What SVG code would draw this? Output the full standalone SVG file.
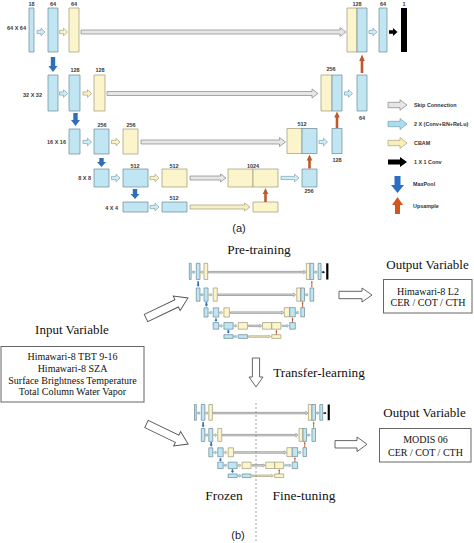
<svg xmlns="http://www.w3.org/2000/svg" xmlns:xlink="http://www.w3.org/1999/xlink" width="474" height="543" viewBox="0 0 474 543">
<style>
.cy{fill:#bfe6f2;stroke:#6d8790;stroke-width:0.7;vector-effect:non-scaling-stroke}
.ye{fill:#fcf5cb;stroke:#9b9878;stroke-width:0.7;vector-effect:non-scaling-stroke}
.sk{fill:#e6e6e6;stroke:#858585;stroke-width:0.7;vector-effect:non-scaling-stroke}
.sy{fill:#f8f0c0;stroke:#a29c78;stroke-width:0.7;vector-effect:non-scaling-stroke}
.cv{fill:#cdeef6;stroke:#7aa3ad;stroke-width:0.7;vector-effect:non-scaling-stroke}
.cb{fill:#fbf3c6;stroke:#a9a27a;stroke-width:0.7;vector-effect:non-scaling-stroke}
.mp{fill:#2f6fba}
.up{fill:#bd5a2c}
.bk{fill:#000}
.lbl{font-family:"Liberation Sans",Arial,sans-serif;font-size:5.5px;font-weight:bold;fill:#3a3a3a;text-anchor:middle}
.rl{font-family:"Liberation Sans",Arial,sans-serif;font-size:5.5px;font-weight:bold;fill:#3a3a3a;text-anchor:end}
.leg{font-family:"Liberation Sans",Arial,sans-serif;font-size:5.4px;font-weight:bold;fill:#333}
.ser{font-family:"Liberation Serif","Times New Roman",serif;fill:#111;text-anchor:middle}
.cap{font-family:"Liberation Sans",Arial,sans-serif;font-size:11px;fill:#222;text-anchor:middle}
.ho{fill:#fff;stroke:#555;stroke-width:0.9}
.bx{fill:#fff;stroke:#666;stroke-width:1}
</style>

<!-- (a) U-Net -->
<g id="unet-a">
  <g id="unet-a-nodes">
    <g id="r1">
      <rect class="cy" x="29" y="8" width="5" height="44"/>
      <rect class="cy" x="48" y="8" width="10" height="44"/>
      <rect class="ye" x="69" y="8" width="10" height="44"/>
      <rect class="ye" x="347" y="8" width="10" height="44"/>
      <rect class="cy" x="357" y="8" width="10" height="44"/>
      <rect class="cy" x="379" y="8" width="8" height="44"/>
      <rect class="bk" x="401" y="8" width="6" height="44"/>
    </g>
    <g id="r2">
      <rect class="cy" x="48" y="75" width="10" height="36"/>
      <rect class="cy" x="69" y="75" width="11" height="36"/>
      <rect class="ye" x="94" y="75" width="11" height="36"/>
      <rect class="ye" x="321" y="75" width="11" height="36"/>
      <rect class="cy" x="332" y="75" width="10" height="36"/>
      <rect class="cy" x="357" y="75" width="10" height="36"/>
    </g>
    <g id="r3">
      <rect class="cy" x="69" y="129" width="11" height="25"/>
      <rect class="cy" x="94" y="129" width="15" height="25"/>
      <rect class="ye" x="123" y="129" width="15" height="25"/>
      <rect class="ye" x="287" y="128.5" width="15" height="25"/>
      <rect class="cy" x="302" y="128.5" width="15" height="25"/>
      <rect class="cy" x="332" y="128.5" width="10" height="25"/>
    </g>
    <g id="r4">
      <rect class="cy" x="94" y="169" width="15" height="18"/>
      <rect class="cy" x="123" y="169" width="25" height="18"/>
      <rect class="ye" x="162" y="169" width="25" height="18"/>
      <rect class="ye" x="228" y="169" width="25" height="18"/>
      <rect class="ye" x="253" y="169" width="25" height="18"/>
      <rect class="cy" x="302" y="169" width="15" height="18"/>
    </g>
    <g id="r5">
      <rect class="cy" x="123" y="202" width="25" height="10"/>
      <rect class="cy" x="162" y="202" width="25" height="10"/>
      <rect class="ye" x="253" y="202" width="25" height="10"/>
    </g>
  </g>
  <g id="unet-a-connectors">
    <path class="cv" d="M37,30.4 H41 V28.2 L45,32 L41,35.8 V33.6 H37 Z"/>
    <path class="cb" d="M59.5,30.4 H63.5 V28.2 L67.5,32 L63.5,35.8 V33.6 H59.5 Z"/>
    <path class="sk" d="M81,30 H340 V27.5 L346,32 L340,36.5 V34 H81 Z"/>
    <path class="cv" d="M369,30.4 H373 V28.2 L377,32 L373,35.8 V33.6 H369 Z"/>
    <path class="bk" d="M389,30.2 H393 V28 L397.5,32 L393,36 V33.8 H389 Z"/>
    <path class="cv" d="M59.5,91.9 H63.5 V89.7 L67.5,93.5 L63.5,97.3 V95.1 H59.5 Z"/>
    <path class="cb" d="M83,91.9 H87.5 V89.7 L91.5,93.5 L87.5,97.3 V95.1 H83 Z"/>
    <path class="sk" d="M107,91.5 H312 V89 L318,93.5 L312,98 V95.5 H107 Z"/>
    <path class="cv" d="M344.5,91.9 H348.5 V89.7 L352.5,93.5 L348.5,97.3 V95.1 H344.5 Z"/>
    <path class="cv" d="M83,140.4 H87.5 V138.2 L91.5,142 L87.5,145.8 V143.6 H83 Z"/>
    <path class="cb" d="M111.5,140.4 H116 V138.2 L120,142 L116,145.8 V143.6 H111.5 Z"/>
    <path class="sk" d="M141,140 H279.5 V137.5 L285.5,142 L279.5,146.5 V144 H141 Z"/>
    <path class="cv" d="M319,140.4 H323.5 V138.2 L327.5,142 L323.5,145.8 V143.6 H319 Z"/>
    <path class="cv" d="M111.5,176.4 H116 V174.2 L120,178 L116,181.8 V179.6 H111.5 Z"/>
    <path class="cb" d="M150,176.4 H155 V174.2 L159,178 L155,181.8 V179.6 H150 Z"/>
    <path class="sk" d="M190,176 H220.5 V174 L226,178 L220.5,182 V180 H190 Z"/>
    <path class="cv" d="M281,176.4 H294.5 V174.2 L299,178 L294.5,181.8 V179.6 H281 Z"/>
    <path class="cv" d="M150,205.4 H155 V203.2 L159,207 L155,210.8 V208.6 H150 Z"/>
    <path class="sy" d="M190,205 H244.5 V203 L250,207 L244.5,211 V209 H190 Z"/>
    <path class="mp" d="M50.8,57 H55.2 V66 H57.5 L53,72 L48.5,66 H50.8 Z"/>
    <path class="mp" d="M73.3,113 H77.7 V120 H80 L75.5,126 L71,120 H73.3 Z"/>
    <path class="mp" d="M99.3,158 H103.7 V162 H106 L101.5,167 L97,162 H99.3 Z"/>
    <path class="mp" d="M132.8,189 H137.2 V194 H139.5 L135,199 L130.5,194 H132.8 Z"/>
    <path class="up" d="M362,54.5 L364.8,61 H363.3 V73 H360.7 V61 H359.2 Z"/>
    <path class="up" d="M337,111.5 L339.8,117.5 H338.3 V128 H335.7 V117.5 H334.2 Z"/>
    <path class="up" d="M309.5,154.5 L312.3,160.5 H310.8 V168.5 H308.2 V160.5 H306.7 Z"/>
    <path class="up" d="M265.5,188 L268.3,194 H266.8 V202 H264.2 V194 H262.7 Z"/>
  </g>
</g>

<g id="unet-a-labels">
  <text class="lbl" x="31.5" y="6">18</text>
  <text class="lbl" x="53" y="6">64</text>
  <text class="lbl" x="74" y="6">64</text>
  <text class="lbl" x="357" y="6">128</text>
  <text class="lbl" x="383" y="6">64</text>
  <text class="lbl" x="404" y="6">1</text>
  <text class="lbl" x="75" y="72">128</text>
  <text class="lbl" x="100" y="72">128</text>
  <text class="lbl" x="331" y="70.5">256</text>
  <text class="lbl" x="362" y="119.5">64</text>
  <text class="lbl" x="102" y="127">256</text>
  <text class="lbl" x="131" y="127">256</text>
  <text class="lbl" x="302" y="126">512</text>
  <text class="lbl" x="337" y="162">128</text>
  <text class="lbl" x="135" y="167.5">512</text>
  <text class="lbl" x="174" y="167.5">512</text>
  <text class="lbl" x="253" y="167.5">1024</text>
  <text class="lbl" x="309" y="192.5">256</text>
  <text class="lbl" x="174" y="200">512</text>
  <text class="rl" x="26" y="30">64 X 64</text>
  <text class="rl" x="42" y="97">32 X 32</text>
  <text class="rl" x="66" y="143.7">16 X 16</text>
  <text class="rl" x="91" y="180.3">8 X 8</text>
  <text class="rl" x="118" y="209.7">4 X 4</text>
</g>

<g id="legend">
  <path class="sk" d="M388,102.3 H400 V99.8 L407,105 L400,110.2 V107.7 H388 Z"/>
  <text class="leg" x="414" y="107">Skip Connection</text>
  <path class="cv" d="M388,121.3 H400 V118.5 L407,124 L400,129.5 V126.7 H388 Z" style="fill:#a9dcec"/>
  <text class="leg" x="414" y="126">2 X (Conv+BN+ReLu)</text>
  <path class="cb" d="M388,140.3 H400 V137.5 L407,143 L400,148.5 V145.7 H388 Z" style="fill:#f8efb8"/>
  <text class="leg" x="414" y="145">CBAM</text>
  <path class="bk" d="M388,159.5 H400 V157 L407,162 L400,167 V164.5 H388 Z"/>
  <text class="leg" x="414" y="164">1 X 1 Conv</text>
  <path class="mp" d="M394.5,176 H400.5 V185 H404 L397.5,193 L391,185 H394.5 Z" style="fill:#2c6fc2"/>
  <text class="leg" x="413" y="186">MaxPool</text>
  <path class="up" d="M397.5,197 L403,205 H400 V214 H395 V205 H392 Z" style="fill:#d4561e"/>
  <text class="leg" x="413" y="208">Upsample</text>
</g>

<text class="cap" x="239" y="232">(a)</text>

<!-- (b) -->
<g id="unet-pre">
  <use href="#unet-a" xlink:href="#unet-a" transform="translate(178.63,260.36) scale(0.368)"/>
</g>
<g id="unet-ft">
  <use href="#unet-a" xlink:href="#unet-a" transform="translate(184.12,401.64) scale(0.358)"/>
</g>

<g id="b-connectors">
  <path class="ho" transform="translate(146,318) rotate(-25.5)" d="M0,-4 H34 V-8 L46.5,0 L34,8 V4 H0 Z"/>
  <path class="ho" transform="translate(146.5,424) rotate(25.7)" d="M0,-4 H34 V-8 L46.2,0 L34,8 V4 H0 Z"/>
  <path class="ho" transform="translate(339,295)" d="M0,-3.7 H23 V-7 L33,0 L23,7 V3.7 H0 Z"/>
  <path class="ho" transform="translate(335,444.3)" d="M0,-3.7 H22 V-7.3 L32,0 L22,7.3 V3.7 H0 Z"/>
  <path class="ho" transform="translate(256,358) rotate(90)" d="M0,-3.6 H19 V-7 L29,0 L19,7 V3.6 H0 Z"/>
  <line x1="256" y1="403" x2="256" y2="541" stroke="#888" stroke-width="0.8" stroke-dasharray="2,2"/>
</g>

<g id="input">
  <text class="ser" x="72" y="334" font-size="13">Input Variable</text>
  <rect class="bx" x="1" y="346.5" width="143" height="55.5"/>
  <text class="ser" x="72.5" y="360" font-size="10">Himawari-8 TBT 9-16</text>
  <text class="ser" x="72.5" y="371.7" font-size="10">Himawari-8 SZA</text>
  <text class="ser" x="72.5" y="383.5" font-size="10">Surface Brightness Temperature</text>
  <text class="ser" x="72.5" y="395.3" font-size="10">Total Column Water Vapor</text>
</g>

<g id="output-pre">
  <text class="ser" x="427.5" y="268.5" font-size="13">Output Variable</text>
  <rect class="bx" x="383.5" y="279.5" width="88.5" height="33.5"/>
  <text class="ser" x="428" y="295" font-size="10">Himawari-8 L2</text>
  <text class="ser" x="428" y="306.3" font-size="10">CER / COT / CTH</text>
</g>

<g id="output-ft">
  <text class="ser" x="424.5" y="417" font-size="13">Output Variable</text>
  <rect class="bx" x="379.5" y="428.5" width="91.5" height="33.5"/>
  <text class="ser" x="425.5" y="443" font-size="10">MODIS 06</text>
  <text class="ser" x="425.5" y="456" font-size="10">CER / COT / CTH</text>
</g>

<g id="b-labels">
  <text class="ser" x="259" y="254" font-size="13.3">Pre-training</text>
  <text class="ser" x="319" y="377" font-size="13.2">Transfer-learning</text>
  <text class="ser" x="224" y="499.5" font-size="13.5">Frozen</text>
  <text class="ser" x="304" y="499.5" font-size="13.5">Fine-tuning</text>
</g>

<text class="cap" x="238" y="539">(b)</text>
</svg>
